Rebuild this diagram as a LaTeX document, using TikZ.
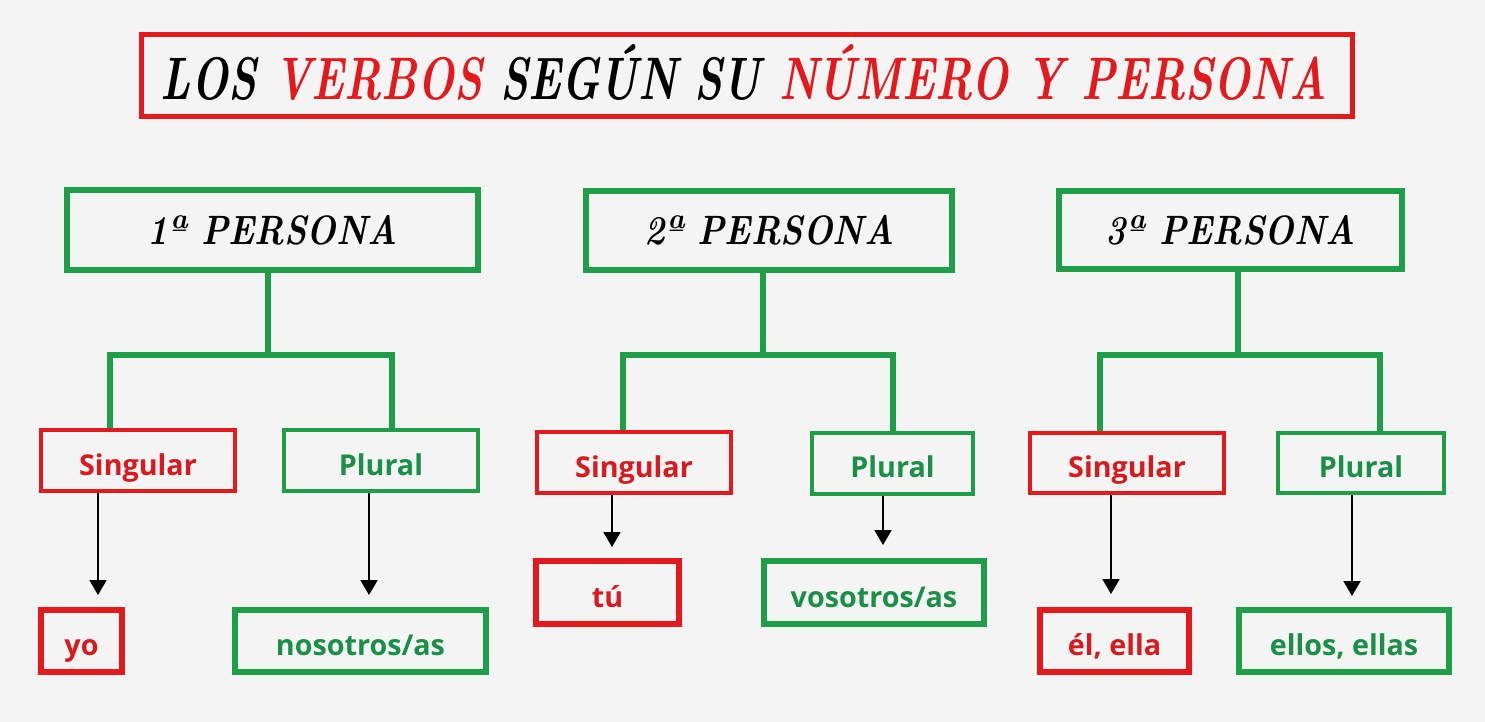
\documentclass[tikz,border=0pt]{standalone}
\usepackage{fontspec}
\usepackage{graphicx}
\usetikzlibrary{arrows.meta,calc}
\newfontfamily\boxfont{Open Sans}
\definecolor{bgc}{HTML}{F4F4F4}
\definecolor{rd}{HTML}{E3191B}
\definecolor{gr}{HTML}{1F9E48}
\definecolor{grt}{HTML}{1A9046}
\definecolor{rdt}{HTML}{D81A1E}
\newcommand{\perstext}[1]{\resizebox{250pt}{\height}{\fontsize{41}{41}\selectfont\bfseries\itshape #1}}
\tikzset{
  titlebox/.style={draw=rd,line width=5pt,inner sep=0pt,minimum width=1211pt,minimum height=82pt},
  persbox/.style={draw=gr,line width=6pt,inner sep=0pt},
  numbox/.style={line width=4pt,inner sep=0pt,minimum width=194pt,minimum height=61pt,
     text height=29pt,text depth=0pt,font=\boxfont\bfseries\fontsize{28.7}{29}\selectfont},
  probox/.style={line width=6pt,inner sep=0pt,minimum height=62pt,
     text height=29pt,text depth=0pt,font=\boxfont\bfseries\fontsize{28.7}{29}\selectfont},
  redb/.style={draw=rd,text=rdt},
  greenb/.style={draw=gr,text=grt},
  tree/.style={draw=gr,line width=6pt,line join=miter},
  arr/.style={draw=black,line width=2pt,-{Triangle[width=17pt,length=15pt]}},
}
\begin{document}
\begin{tikzpicture}[x=1pt,y=-1pt]
\fill[bgc] (0,0) rectangle (1485,722);
\useasboundingbox (0,0) rectangle (1485,722);
% title
\node[titlebox] (title) at (747,75.5) {};
\node[anchor=base,inner sep=0pt] (titletext) at (744,100)
  {\resizebox{1166pt}{\height}{\fontsize{60}{60}\selectfont\bfseries\itshape LOS \textcolor{rd}{VERBOS} SEGÚN SU \textcolor{rd}{NÚMERO Y PERSONA}}};
% persona boxes
\node[persbox,minimum width=411pt,minimum height=80pt] (p1) at (272.5,230) {\perstext{1ª PERSONA}};
\node[persbox,minimum width=366pt,minimum height=79pt] (p2) at (769,230.5) {\perstext{2ª PERSONA}};
\node[persbox,minimum width=343pt,minimum height=78pt] (p3) at (1230.5,230) {\perstext{3ª PERSONA}};
% number boxes
\node[numbox,redb] (s1) at (138,460.5) {Singular};
\node[numbox,greenb] (pl1) at (381,460.5) {Plural};
\node[numbox,redb] (s2) at (634,462.5) {Singular};
\node[numbox,greenb,minimum width=161pt] (pl2) at (892.5,463) {Plural};
\node[numbox,redb,minimum height=60pt] (s3) at (1127,463) {Singular};
\node[numbox,greenb,minimum width=166pt,minimum height=60pt] (pl3) at (1361,463) {Plural};
% pronoun boxes
\node[probox,redb,minimum width=81pt] (yo) at (81.5,641) {yo};
\node[probox,greenb,minimum width=251pt] (nos) at (360.5,641) {nosotros/as};
\node[probox,redb,minimum width=143pt,minimum height=63pt] (tu) at (607.5,592.5) {tú};
\node[probox,greenb,minimum width=220pt,minimum height=63pt] (vos) at (874,592.5) {vosotros/as};
\node[probox,redb,minimum width=149pt] (el) at (1114.5,641) {él, ella};
\node[probox,greenb,minimum width=210pt] (ellos) at (1344,641) {ellos, ellas};
% tree connectors
\coordinate (j1) at (268,355);
\coordinate (j2) at (763,355);
\coordinate (j3) at (1238,355);
\draw[tree] (p1.south -| j1) -- (j1);
\draw[tree] ([xshift=-28pt]s1.north) |- (j1) -| ([xshift=11pt]pl1.north);
\draw[tree] (p2.south -| j2) -- (j2);
\draw[tree] ([xshift=-11pt]s2.north) |- (j2) -| ([xshift=0.5pt]pl2.north);
\draw[tree] (p3.south -| j3) -- (j3);
\draw[tree] ([xshift=-27pt]s3.north) |- (j3) -| ([xshift=19pt]pl3.north);
% arrows
\draw[arr,shorten >=12pt] ([xshift=-40pt]s1.south) -- ([xshift=-40pt]s1.south |- yo.north);
\draw[arr,shorten >=12pt] ([xshift=-12pt]pl1.south) -- ([xshift=-12pt]pl1.south |- nos.north);
\draw[arr,shorten >=11pt] ([xshift=-22pt]s2.south) -- ([xshift=-22pt]s2.south |- tu.north);
\draw[arr,shorten >=13pt] ([xshift=-9.5pt]pl2.south) -- ([xshift=-9.5pt]pl2.south |- vos.north);
\draw[arr,shorten >=13pt] ([xshift=-16pt]s3.south) -- ([xshift=-16pt]s3.south |- el.north);
\draw[arr,shorten >=11pt] ([xshift=-9pt]pl3.south) -- ([xshift=-9pt]pl3.south |- ellos.north);
\end{tikzpicture}
\end{document}
